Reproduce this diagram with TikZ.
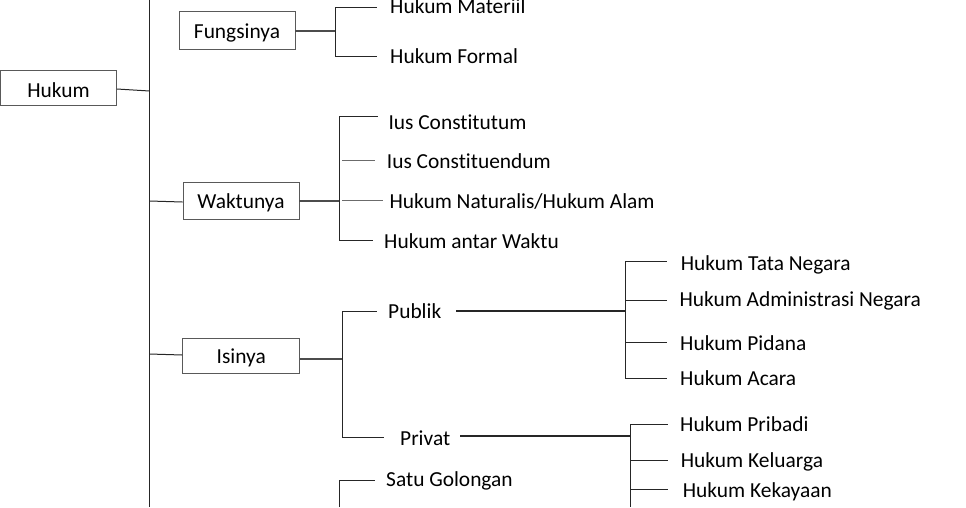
\documentclass[tikz,border=0pt]{standalone}
\usepackage{fontspec}
\setmainfont{Carlito}[Ligatures={NoCommon,NoRequired,NoContextual}]
\newcommand{\fs}{\fontsize{21.4}{25}\selectfont}
\definecolor{linec}{gray}{0.15}
\definecolor{boxc}{gray}{0.35}
\definecolor{dblc}{gray}{0.3}
\definecolor{lgc}{gray}{0.42}
\begin{document}
\begin{tikzpicture}[x=1pt,y=-1pt,
  box/.style={draw=boxc, line width=0.9pt, inner sep=0pt, text height=16pt, text depth=0pt, font=\fs},
  leaf/.style={anchor=base west, inner sep=0pt, font=\fs},
  ln/.style={draw=linec, line width=1pt},
  lg/.style={draw=lgc, line width=1pt},
  dbl/.style={draw=dblc, line width=2.3pt},
  thk/.style={draw=linec, line width=2pt}]
\useasboundingbox (0,0) rectangle (966,507);
\clip (0,0) rectangle (966,507);

% boxes
\node[box, minimum width=116pt, minimum height=34.3pt, text height=19pt] (hukum) at (58.5,87.9) {Hukum};
\node[box, minimum width=116pt, minimum height=37.3pt] (fungsi) at (237,30.3) {Fungsinya};
\node[box, minimum width=116pt, minimum height=37pt] (waktu) at (241,200.5) {Waktunya};
\node[box, minimum width=117pt, minimum height=35pt] (isi) at (241.2,355.8) {Isinya};

% main spine
\coordinate (sTop) at (149.5,0);
\coordinate (sBot) at (149.5,507);
\draw[ln] (sTop) -- (sBot);
\draw[ln] (hukum.east |- 0,89) -- (149.5,91);
\draw[ln] (149.5,201) -- (waktu.west |- 0,202);
\draw[ln] (149.5,354) -- (isi.west |- 0,355);

% Fungsinya
\coordinate (jf) at (335,31);
\draw[dbl] (fungsi.east |- jf) -- (jf);
\draw[ln] (335,7.3) -- (335,56.7);
\draw[ln] (335,7.3) -- (377,7.3);
\draw[ln] (335,56.7) -- (377,56.7);
\node[leaf] (materiil) at (390,13.3) {Hukum Materiil};
\node[leaf] (formal) at (390,63.3) {Hukum Formal};

% Waktunya
\coordinate (jw) at (339,201);
\draw[dbl] (waktu.east |- jw) -- (jw);
\draw[ln] (339,116.7) -- (339,240);
\draw[ln] (339,116.7) -- (378,116.7);
\draw[lg] (342,160) -- (375,160);
\draw[lg] (342,200.7) -- (383,200.7);
\draw[ln] (339,240) -- (373,240);
\node[leaf] (iusc) at (388.3,129.3) {Ius Constitutum};
\node[leaf] (iuscd) at (386.7,168.3) {Ius Constituendum};
\node[leaf] (natur) at (389.3,208.3) {Hukum Naturalis/Hukum Alam};
\node[leaf] (antar) at (384,248.3) {Hukum antar Waktu};

% Isinya
\coordinate (ji) at (342,359.3);
\draw[dbl] (isi.east |- ji) -- (ji);
\draw[ln] (342,311) -- (342,437.7);
\draw[ln] (342,311) -- (377,311);
\draw[ln] (342,437.7) -- (384,437.7);
\node[leaf] (publik) at (388,318.3) {Publik};
\node[leaf] (privat) at (400,445) {Privat};

% Publik
\coordinate (jp) at (625,311);
\draw[thk] (456,311) -- (jp);
\draw[ln] (625,261.3) -- (625,378.7);
\foreach \yy in {261.3,300.7,342,378.7} \draw[ln] (625,\yy) -- (666.7,\yy);
\node[leaf] (htn) at (680.7,270.7) {Hukum Tata Negara};
\node[leaf] (han) at (679.3,306.7) {Hukum Administrasi Negara};
\node[leaf] (hpid) at (680,350) {Hukum Pidana};
\node[leaf] (hac) at (680,385) {Hukum Acara};

% Privat
\coordinate (jv) at (630,436);
\draw[thk] (460,436) -- (jv);
\draw[ln] (630,424.7) -- (630,507);
\foreach \yy in {424.7,460.7,489.3} \draw[ln] (630,\yy) -- (668,\yy);
\node[leaf] (hpri) at (680,431.7) {Hukum Pribadi};
\node[leaf] (hkel) at (680.7,467.3) {Hukum Keluarga};
\node[leaf] (hkek) at (682.7,497.3) {Hukum Kekayaan};

% Satu Golongan
\coordinate (jg) at (339,480);
\draw[ln] (339,507) -- (jg) -- (375,480);
\node[leaf] (satu) at (386,486) {Satu Golongan};
\end{tikzpicture}
\end{document}
